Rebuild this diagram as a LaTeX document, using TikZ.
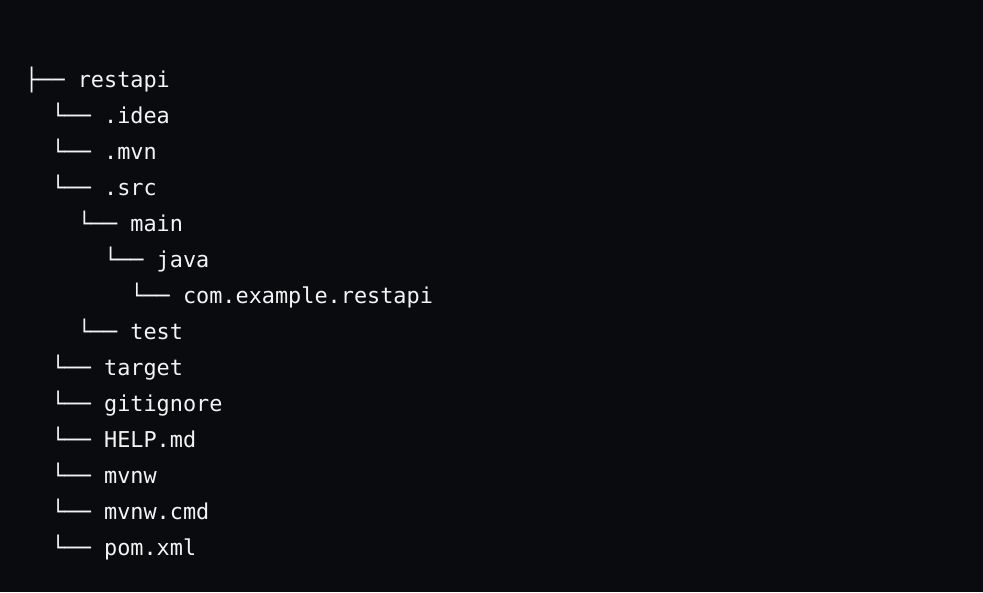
\documentclass[tikz,border=0pt]{standalone}
\usepackage{fontspec}
\setmonofont{DejaVu Sans Mono}
\definecolor{bgcol}{HTML}{090B0E}
\definecolor{txtcol}{HTML}{F4F4F4}
\begin{document}
\begin{tikzpicture}[x=1pt,y=-1pt,
  line/.style={anchor=base west,inner sep=0pt,text=txtcol,
    font=\fontsize{21.85pt}{26pt}\selectfont\ttfamily}]
\fill[bgcol] (0,0) rectangle (983,592);
\useasboundingbox (0,0) rectangle (983,592);
\def\cw{13.15}
\node[line] (l1)  at (25,87.5)                {├── restapi};
\node[line] (l2)  at ({25+2*\cw},123.5)       {└── .idea};
\node[line] (l3)  at ({25+2*\cw},159.5)       {└── .mvn};
\node[line] (l4)  at ({25+2*\cw},195.5)       {└── .src};
\node[line] (l5)  at ({25+4*\cw},231.5)       {└── main};
\node[line] (l6)  at ({25+6*\cw},267.5)       {└── java};
\node[line] (l7)  at ({25+8*\cw},303.5)       {└── com.example.restapi};
\node[line] (l8)  at ({25+4*\cw},339.5)       {└── test};
\node[line] (l9)  at ({25+2*\cw},375.5)       {└── target};
\node[line] (l10) at ({25+2*\cw},411.5)       {└── gitignore};
\node[line] (l11) at ({25+2*\cw},447.5)       {└── HELP.md};
\node[line] (l12) at ({25+2*\cw},483.5)       {└── mvnw};
\node[line] (l13) at ({25+2*\cw},519.5)       {└── mvnw.cmd};
\node[line] (l14) at ({25+2*\cw},555.5)       {└── pom.xml};
\end{tikzpicture}
\end{document}
